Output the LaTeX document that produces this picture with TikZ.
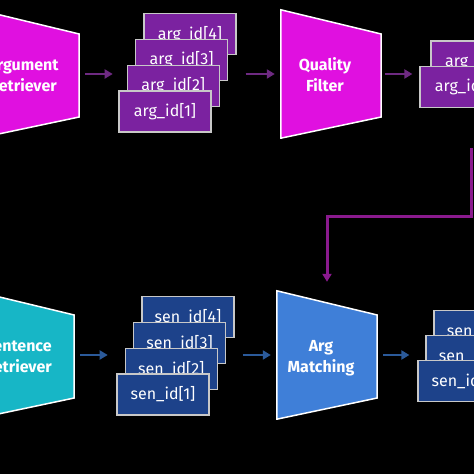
\documentclass[tikz,border=0pt]{standalone}
\usepackage{fontspec}
\setsansfont{Fira Sans}
\usetikzlibrary{positioning, arrows.meta}
\definecolor{argpink}{HTML}{E010E0}
\definecolor{argfill}{HTML}{7B22A0}
\definecolor{argline}{HTML}{6E2A82}
\definecolor{linkline}{HTML}{8A1A8E}
\definecolor{sencyan}{HTML}{17B6C6}
\definecolor{matchblue}{HTML}{3F7FD8}
\definecolor{senfill}{HTML}{1D428A}
\definecolor{senline}{HTML}{2B5A9A}
\definecolor{boxline}{HTML}{C8C8C8}
\newcommand{\funneltext}[2]{\raisebox{-3pt}[\height][\depth]{\begin{tabular}{@{}c@{}}#1\\#2\end{tabular}}\hspace*{12pt}}
\tikzset{
	x=1pt, y=1pt,
	funnel/.style={rectangle, minimum width=102pt, minimum height=130pt, inner sep=0pt,
		text=white, font=\sffamily\bfseries\fontsize{16}{21}\selectfont,
		path picture={\filldraw[draw=white, line width=1.5pt, fill=#1]
			([shift={(0.8pt,-0.8pt)}]path picture bounding box.north west)
			-- ([shift={(-0.8pt,-25pt)}]path picture bounding box.north east)
			-- ([shift={(-0.8pt,22pt)}]path picture bounding box.south east)
			-- ([shift={(0.8pt,0.8pt)}]path picture bounding box.south west) -- cycle;}},
	idbox/.style={rectangle, draw=boxline, line width=1.2pt, minimum width=92pt,
		minimum height=41pt, text=white, font=\sffamily\fontsize{16}{20}\selectfont},
	argbox/.style={idbox, fill=argfill},
	senbox/.style={idbox, fill=senfill},
	flow/.style={line width=2.6pt, -{Triangle[length=8pt,width=9pt]}},
	argarrow/.style={flow, draw=argline},
	senarrow/.style={flow, draw=senline},
	linkarrow/.style={flow, line width=3pt, draw=linkline}}

\begin{document}
\begin{tikzpicture}
	\useasboundingbox (0,0) rectangle (474,474);
	\clip (0,0) rectangle (474,474);
	\fill[black] (0,0) rectangle (474,474);

	% argument row
	\node[funnel=argpink] (ar) at (29,400) {\funneltext{Argument}{Retriever}};
	\node[argbox] (arg4) at (189.9,439.6) {arg\_id[4]};
	\node[argbox] (arg3) at (181.6,413.9) {arg\_id[3]};
	\node[argbox] (arg2) at (173.3,388.2) {arg\_id[2]};
	\node[argbox] (arg1) at (165,362.5) {arg\_id[1]};
	\node[funnel=argpink] (qf) at (331,400) {\funneltext{Quality}{Filter}};
	\node[argbox] (kept2) at (477,412.5) {arg\_id[2]};
	\node[argbox] (kept1) at (466,387) {arg\_id[1]};
	\coordinate (filtout) at (471,326);

	% sentence row
	\node[funnel=sencyan] (sr) at (24,119) {\funneltext{Sentence}{Retriever}};
	\node[senbox] (sen4) at (187.9,156.6) {sen\_id[4]};
	\node[senbox] (sen3) at (179.6,130.9) {sen\_id[3]};
	\node[senbox] (sen2) at (171.3,105.2) {sen\_id[2]};
	\node[senbox] (sen1) at (163,79.5) {sen\_id[1]};
	\node[funnel=matchblue] (am) at (327,119) {\funneltext{Arg}{Matching}};
	\node[senbox] (found3) at (480,143) {sen\_id[3]};
	\node[senbox] (found2) at (472,118) {sen\_id[2]};
	\node[senbox] (found1) at (464,93) {sen\_id[1]};

	\draw[argarrow, shorten <=5pt, shorten >=14pt] (ar.east) -- (ar.east -| arg2.west);
	\draw[argarrow, shorten <=9pt, shorten >=5pt] (qf.west -| arg4.east) -- (qf.west);
	\draw[argarrow, shorten <=3pt, shorten >=7pt] (qf.east) -- (qf.east -| kept1.west);
	\draw[linkarrow, shorten >=8pt] (filtout) |- ([yshift=73pt]am.north) -- (am.north);
	\draw[senarrow, shorten <=5pt, shorten >=17pt] (sr.east) -- (sr.east -| sen2.west);
	\draw[senarrow, shorten <=8pt, shorten >=5pt] (am.west -| sen4.east) -- (am.west);
	\draw[senarrow, shorten <=5pt, shorten >=8pt] (am.east) -- (am.east -| found1.west);

\end{tikzpicture}
\end{document}
